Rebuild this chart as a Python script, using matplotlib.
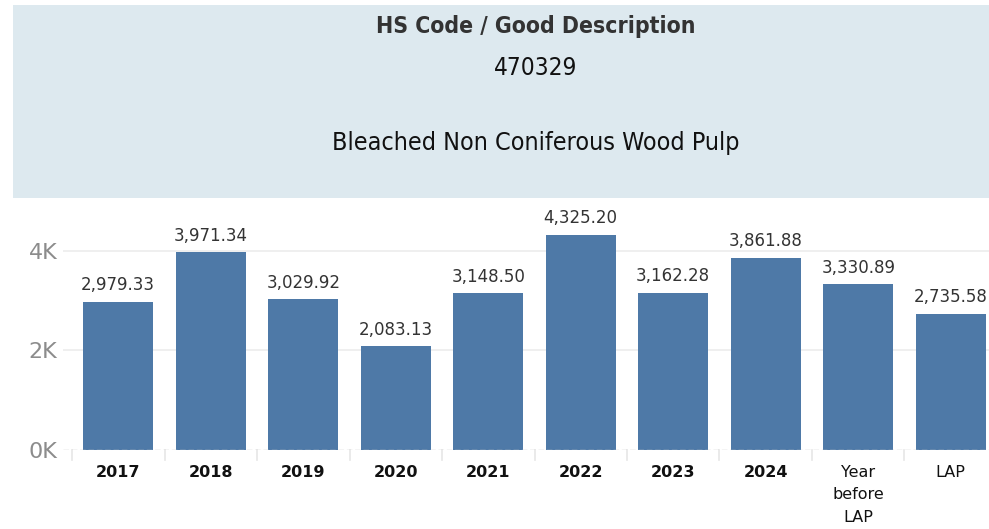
import matplotlib
matplotlib.use("Agg")
import matplotlib.pyplot as plt
from matplotlib.patches import Rectangle

categories = ["2017", "2018", "2019", "2020", "2021", "2022", "2023", "2024", "Year\nbefore\nLAP", "LAP"]
values = [2979.33, 3971.34, 3029.92, 2083.13, 3148.50, 4325.20, 3162.28, 3861.88, 3330.89, 2735.58]
yticks = [0, 2000, 4000]
ytick_labels = ["0K", "2K", "4K"]
title_line1 = "HS Code / Good Description"
hs_code = "470329"
description = "Bleached Non Coniferous Wood Pulp"

W, H = 989, 529
fig = plt.figure(figsize=(W / 100, H / 100), dpi=100)
fig.patch.set_facecolor("white")

# header box
fig.patches.append(Rectangle((13 / W, 1 - 198 / H), (989 - 13) / W, (198 - 5) / H,
                             transform=fig.transFigure, facecolor="#dde9ef",
                             edgecolor="none", zorder=0))
cx = 536 / W
fig.text(cx, 1 - 27 / H, title_line1, ha="center", va="center", fontsize=16.5,
         fontweight="bold", color="#333333", fontstretch="condensed",
         family="DejaVu Sans")
fig.text(cx, 1 - 68 / H, hs_code, ha="center", va="center", fontsize=17.5,
         color="#111111", family="DejaVu Sans", fontstretch="condensed")
fig.text(cx, 1 - 143 / H, description, ha="center", va="center", fontsize=18,
         color="#111111", family="DejaVu Sans", fontstretch="condensed")

left_px, right_px = 63, 989
top_px, bottom_px = 200, 450
ax = fig.add_axes([left_px / W, 1 - bottom_px / H, (right_px - left_px) / W,
                   (bottom_px - top_px) / H])
slot = 92.5
x0 = -0.5 - (72 - left_px) / slot
x1 = x0 + (right_px - left_px) / slot
ax.set_xlim(x0, x1)
ax.set_ylim(0, 5025)

xs = list(range(len(categories)))
ax.bar(xs, values, width=0.757, color="#4e79a7", zorder=3)
for x, v in zip(xs, values):
    ax.annotate(f"{v:,.2f}", (x, v), xytext=(0, 12), textcoords="offset points",
                ha="center", va="center", fontsize=12, color="#333333")

for s in ax.spines.values():
    s.set_visible(False)
for y in yticks[1:]:
    ax.axhline(y, color="#ececec", lw=1.2, zorder=1)
ax.axhline(0, color="#c8c8c8", lw=1, ls=(0, (4, 2)), zorder=4)

ax.set_yticks(yticks)
ax.set_yticklabels(ytick_labels, fontsize=16, color="#8c8c8c")
ax.tick_params(axis="y", length=0, pad=4)

ax.set_xticks(xs)
ax.set_xticklabels(categories, fontsize=11.5, fontweight="bold", color="#111111",
                   linespacing=1.6, va="top")
ax.tick_params(axis="x", length=0, pad=11)
for lab in ax.get_xticklabels()[8:]:
    lab.set_fontweight("normal")

# slot separators
for b in [i - 0.5 for i in range(len(categories) + 1)]:
    ax.plot([b, b], [0, -0.04], transform=ax.get_xaxis_transform(),
            color="#e6e6e6", lw=1.2, clip_on=False)

fig.savefig("out.png", dpi=100)
